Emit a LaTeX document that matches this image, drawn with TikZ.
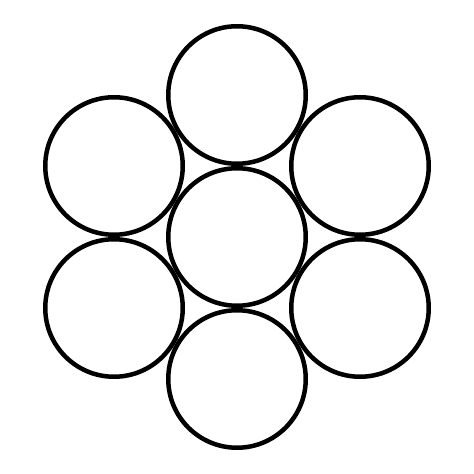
\documentclass[tikz,border=0pt]{standalone}
\usepackage{tikz}

\begin{document}
\begin{tikzpicture}[x=1pt, y=1pt, every node/.style={draw, circle, line width=4.5pt, inner sep=0pt, minimum size=137.5pt}]
    \useasboundingbox (0,0) rectangle (474,474);
    
    % Middle circle
    \node (middle) at (237,237) {};
    
    % Top and bottom circles
    \node (top) at (237,379) {};
    \node (bottom) at (237,95) {};
    
    % Side circles
    \node (upleft) at (114,308) {};
    \node (upright) at (360,308) {};
    \node (lowleft) at (114,166) {};
    \node (lowright) at (360,166) {};
\end{tikzpicture}
\end{document}
